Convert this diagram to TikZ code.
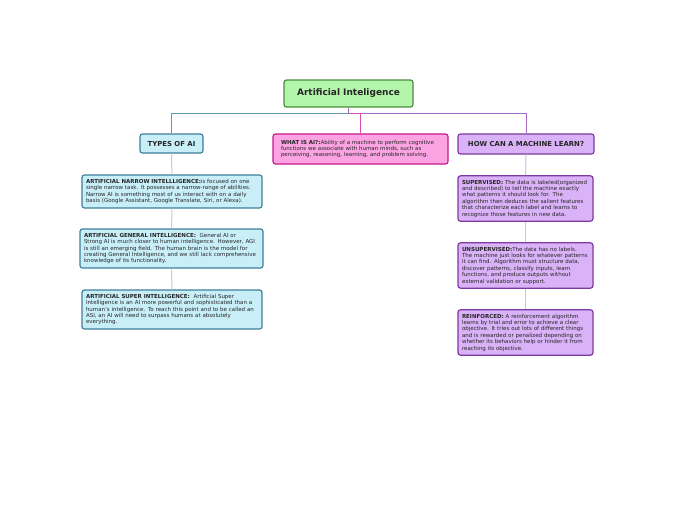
\documentclass[tikz,border=0pt]{standalone}
\usepackage{fontspec}
\setmainfont{DejaVu Sans}
\usepackage{tikz}

\definecolor{rootfill}{HTML}{B3F5AB}
\definecolor{rootdraw}{HTML}{4C8C3F}
\definecolor{typefill}{HTML}{C8EEF8}
\definecolor{typedraw}{HTML}{3F7F99}
\definecolor{whatfill}{HTML}{FBA3E3}
\definecolor{whatdraw}{HTML}{C5198F}
\definecolor{learnfill}{HTML}{DAB2F7}
\definecolor{learndraw}{HTML}{7D3A9E}
\definecolor{typeline}{HTML}{5E9BB3}
\definecolor{whatline}{HTML}{D94DB5}
\definecolor{learnline}{HTML}{A56BC4}

\begin{document}
\begin{tikzpicture}[x=1pt, y=-1pt,
            box/.style={rounded corners=2.5pt, line width=1.2pt, inner sep=4pt, text=black!85},
            body/.style={box, align=left, font=\fontsize{5.5}{6.4}\selectfont},
            title/.style={box, align=center, font=\bfseries\fontsize{6.9}{8}\selectfont},
            root/.style={fill=rootfill, draw=rootdraw},
            types/.style={fill=typefill, draw=typedraw},
            what/.style={fill=whatfill, draw=whatdraw},
            learn/.style={fill=learnfill, draw=learndraw},
            link/.style={line width=1pt},]

        \useasboundingbox (0,0) rectangle (697,520);

        % Node central
        \node[box, root, minimum width=129pt, minimum height=27pt,
              font=\bfseries\fontsize{9}{10}\selectfont] (ai) at (348.5, 93.5) {Artificial Inteligence};

        % Nodes principais
        \node[title, types, minimum width=63pt, minimum height=19pt] (types) at (171.5, 143.5) {TYPES OF AI};
        \node[body, what, text width=159pt, inner xsep=8pt, minimum height=30pt] (what) at (360.5, 149)
            {\textbf{WHAT IS AI?:}Ability of a machine to perform cognitive\\
             functions we associate with human minds, such as\\
             perceiving, reasoning, learning, and problem solving.};
        \node[title, learn, minimum width=136pt, minimum height=20pt] (learn) at (526, 144) {HOW CAN A MACHINE LEARN?};

        % Nodes tipos
        \node[body, types, text width=172pt, minimum height=33pt] (type1) at (172, 191.5)
            {\textbf{ARTIFICIAL NARROW INTELLLIGENCE:}is focused on one\\
             single narrow task. It possesses a narrow-range of abilities.\\
             Narrow AI is something most of us interact with on a daily\\
             basis (Google Assistant, Google Translate, Siri, or Alexa).};
        \node[body, types, text width=175pt, minimum height=39pt] (type2) at (171.5, 248.5)
            {\textbf{ARTIFICIAL GENERAL INTELLIGENCE:}\ \ General AI or\\
             Strong AI is much closer to human intelligence. However, AGI\\
             is still an emerging field. The human brain is the model for\\
             creating General Intelligence, and we still lack comprehensive\\
             knowledge of its functionality.};
        \node[body, types, text width=172pt, minimum height=39pt] (type3) at (172, 309.5)
            {\textbf{ARTIFICIAL SUPER INTELLIGENCE:}\ \ Artificial Super\\
             Intelligence is an AI more powerful and sophisticated than a\\
             human's intelligence. To reach this point and to be called an\\
             ASI, an AI will need to surpass humans at absolutely\\
             everything.};

        % Nodes aprendizado
        \node[body, learn, text width=127pt, minimum height=45pt] (learn1) at (525.5, 198.5)
            {\textbf{SUPERVISED:} The data is labeled(organized\\
             and described) to tell the machine exactly\\
             what patterns it should look for. The\\
             algorithm then deduces the salient features\\
             that characterize each label and learns to\\
             recognize those features in new data.};
        \node[body, learn, text width=127pt, minimum height=45pt] (learn2) at (525.5, 265.5)
            {\textbf{UNSUPERVISED:}The data has no labels.\\
             The machine just looks for whatever patterns\\
             it can find. Algorithm must structure data,\\
             discover patterns, classify inputs, learn\\
             functions, and produce outputs without\\
             external validation or support.};
        \node[body, learn, text width=127pt, minimum height=45pt] (learn3) at (525.5, 332.5)
            {\textbf{REINFORCED:} A reinforcement algorithm\\
             learns by trial and error to achieve a clear\\
             objective. It tries out lots of different things\\
             and is rewarded or penalized depending on\\
             whether its behaviors help or hinder it from\\
             reaching its objective.};

        \coordinate (hub) at ([yshift=-6pt]ai.south);

        \draw[link, learnline] (ai.south) -- (hub) -| (learn.north);
        \draw[link, whatline] (hub) -| (what.north);
        \draw[link, typeline] (hub) -| (types.north);

        \draw[link, typeline!45] (types) -- (type1);
        \foreach \src/\dest in {1/2,2/3}
            \draw[link, typeline!45] (type\src) -- (type\dest);

        \draw[link, learnline!45] (learn) -- (learn1);
        \foreach \src/\dest in {1/2,2/3}
            \draw[link, learnline!45] (learn\src) -- (learn\dest);
    \end{tikzpicture}
\end{document}
